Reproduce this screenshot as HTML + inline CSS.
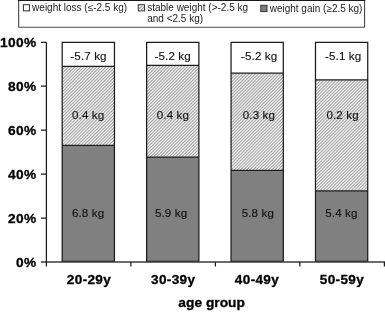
<!DOCTYPE html><html><head><meta charset="utf-8"><title>chart</title><style>html,body{margin:0;padding:0;background:#fff}svg{display:block}text{font-family:"Liberation Sans",sans-serif;fill:#111}.b{font-weight:bold;font-size:13px;fill:#000;letter-spacing:.32px;stroke:#000;stroke-width:.3px}.d{font-size:11.6px;letter-spacing:.12px;stroke:#111;stroke-width:.14px}.l{font-size:10px;fill:#1a1a1a}</style></head><body>
<svg width="385" height="312" viewBox="0 0 385 312">
<rect width="385" height="312" fill="#fff"/>
<path d="M18.65 0V27.25H364.55V0" fill="none" stroke="#4a4a4a" stroke-width="1.15"/><path d="M18 0.4H365.2" stroke="#000" stroke-width="1" fill="none"/>
<rect x="23.4" y="4.7" width="6.1" height="6.15" fill="#fff" stroke="#3c3c3c" stroke-width="1.1"/>
<rect x="138.3" y="4.7" width="6.2" height="6.15" fill="#fff" stroke="#3c3c3c" stroke-width="1.1"/>
<rect x="260.8" y="5.35" width="6.2" height="6.15" fill="#808080" stroke="#3c3c3c" stroke-width="1.1"/>
<text class="l" x="32.1" y="11">weight loss (≤-2.5 kg)</text>
<text class="l" x="147.2" y="11">stable weight (&gt;-2.5 kg</text>
<text class="l" x="147.2" y="22.3">and &lt;2.5 kg)</text>
<text class="l" x="269.7" y="11.6">weight gain (≥2.5 kg)</text>
<clipPath id="hc"><rect x="62.20" y="66.40" width="52.25" height="79.00"/><rect x="146.63" y="65.40" width="52.25" height="91.70"/><rect x="231.06" y="73.10" width="52.25" height="97.30"/><rect x="315.49" y="79.80" width="52.25" height="111.10"/><rect x="138.85" y="5.25" width="5.10" height="5.05"/></clipPath><path clip-path="url(#hc)" d="M-124.23 190.90L61.42 5.25M-121.11 190.90L64.54 5.25M-117.98 190.90L67.67 5.25M-114.86 190.90L70.79 5.25M-111.73 190.90L73.92 5.25M-108.61 190.90L77.04 5.25M-105.48 190.90L80.17 5.25M-102.36 190.90L83.29 5.25M-99.23 190.90L86.42 5.25M-96.11 190.90L89.54 5.25M-92.98 190.90L92.67 5.25M-89.86 190.90L95.79 5.25M-86.73 190.90L98.92 5.25M-83.61 190.90L102.04 5.25M-80.48 190.90L105.17 5.25M-77.36 190.90L108.29 5.25M-74.23 190.90L111.42 5.25M-71.11 190.90L114.54 5.25M-67.98 190.90L117.67 5.25M-64.86 190.90L120.79 5.25M-61.74 190.90L123.91 5.25M-58.61 190.90L127.04 5.25M-55.49 190.90L130.16 5.25M-52.36 190.90L133.29 5.25M-49.24 190.90L136.41 5.25M-46.11 190.90L139.54 5.25M-42.99 190.90L142.66 5.25M-39.86 190.90L145.79 5.25M-36.74 190.90L148.91 5.25M-33.61 190.90L152.04 5.25M-30.49 190.90L155.16 5.25M-27.36 190.90L158.29 5.25M-24.24 190.90L161.41 5.25M-21.11 190.90L164.54 5.25M-17.99 190.90L167.66 5.25M-14.86 190.90L170.79 5.25M-11.74 190.90L173.91 5.25M-8.61 190.90L177.04 5.25M-5.49 190.90L180.16 5.25M-2.36 190.90L183.29 5.25M0.76 190.90L186.41 5.25M3.89 190.90L189.54 5.25M7.01 190.90L192.66 5.25M10.14 190.90L195.79 5.25M13.26 190.90L198.91 5.25M16.39 190.90L202.04 5.25M19.51 190.90L205.16 5.25M22.64 190.90L208.29 5.25M25.76 190.90L211.41 5.25M28.89 190.90L214.54 5.25M32.01 190.90L217.66 5.25M35.14 190.90L220.79 5.25M38.26 190.90L223.91 5.25M41.39 190.90L227.04 5.25M44.51 190.90L230.16 5.25M47.64 190.90L233.29 5.25M50.76 190.90L236.41 5.25M53.89 190.90L239.54 5.25M57.01 190.90L242.66 5.25M60.14 190.90L245.79 5.25M63.26 190.90L248.91 5.25M66.39 190.90L252.04 5.25M69.52 190.90L255.17 5.25M72.64 190.90L258.29 5.25M75.77 190.90L261.42 5.25M78.89 190.90L264.54 5.25M82.02 190.90L267.67 5.25M85.14 190.90L270.79 5.25M88.27 190.90L273.92 5.25M91.39 190.90L277.04 5.25M94.52 190.90L280.17 5.25M97.64 190.90L283.29 5.25M100.77 190.90L286.42 5.25M103.89 190.90L289.54 5.25M107.02 190.90L292.67 5.25M110.14 190.90L295.79 5.25M113.27 190.90L298.92 5.25M116.39 190.90L302.04 5.25M119.52 190.90L305.17 5.25M122.64 190.90L308.29 5.25M125.77 190.90L311.42 5.25M128.89 190.90L314.54 5.25M132.02 190.90L317.67 5.25M135.14 190.90L320.79 5.25M138.27 190.90L323.92 5.25M141.39 190.90L327.04 5.25M144.52 190.90L330.17 5.25M147.64 190.90L333.29 5.25M150.77 190.90L336.42 5.25M153.89 190.90L339.54 5.25M157.02 190.90L342.67 5.25M160.14 190.90L345.79 5.25M163.27 190.90L348.92 5.25M166.39 190.90L352.04 5.25M169.52 190.90L355.17 5.25M172.64 190.90L358.29 5.25M175.77 190.90L361.42 5.25M178.89 190.90L364.54 5.25M182.02 190.90L367.67 5.25M185.14 190.90L370.79 5.25M188.27 190.90L373.92 5.25M191.39 190.90L377.04 5.25M194.52 190.90L380.17 5.25M197.64 190.90L383.29 5.25M200.77 190.90L386.42 5.25M203.89 190.90L389.54 5.25M207.02 190.90L392.67 5.25M210.14 190.90L395.79 5.25M213.27 190.90L398.92 5.25M216.39 190.90L402.04 5.25M219.52 190.90L405.17 5.25M222.64 190.90L408.29 5.25M225.77 190.90L411.42 5.25M228.89 190.90L414.54 5.25M232.02 190.90L417.67 5.25M235.14 190.90L420.79 5.25M238.27 190.90L423.92 5.25M241.39 190.90L427.04 5.25M244.52 190.90L430.17 5.25M247.64 190.90L433.29 5.25M250.77 190.90L436.42 5.25M253.89 190.90L439.54 5.25M257.01 190.90L442.67 5.25M260.14 190.90L445.79 5.25M263.26 190.90L448.92 5.25M266.39 190.90L452.04 5.25M269.51 190.90L455.17 5.25M272.64 190.90L458.29 5.25M275.76 190.90L461.42 5.25M278.89 190.90L464.54 5.25M282.01 190.90L467.67 5.25M285.14 190.90L470.79 5.25M288.26 190.90L473.92 5.25M291.39 190.90L477.04 5.25M294.51 190.90L480.17 5.25M297.64 190.90L483.29 5.25M300.76 190.90L486.42 5.25M303.89 190.90L489.54 5.25M307.01 190.90L492.67 5.25M310.14 190.90L495.79 5.25M313.26 190.90L498.92 5.25M316.39 190.90L502.04 5.25M319.51 190.90L505.17 5.25M322.64 190.90L508.29 5.25M325.76 190.90L511.41 5.25M328.89 190.90L514.54 5.25M332.01 190.90L517.66 5.25M335.14 190.90L520.79 5.25M338.26 190.90L523.91 5.25M341.39 190.90L527.04 5.25M344.51 190.90L530.16 5.25M347.64 190.90L533.29 5.25M350.76 190.90L536.41 5.25M353.89 190.90L539.54 5.25M357.01 190.90L542.66 5.25M360.14 190.90L545.79 5.25M363.26 190.90L548.91 5.25M366.39 190.90L552.04 5.25" stroke="#a2a2a2" stroke-width="1.15" fill="none"/>
<rect x="62.20" y="42.3" width="52.25" height="24.10" fill="#fff"/>
<rect x="62.20" y="145.4" width="52.25" height="115.90" fill="#808080"/>
<path d="M62.20 261.3V42.3H114.45V261.3ZM62.20 66.4H114.45M62.20 145.4H114.45" fill="none" stroke="#1c1c1c" stroke-width="1.25"/>
<text class="d" x="88.5" y="60.4" text-anchor="middle">-5.7 kg</text>
<text class="d" x="88.2" y="119.4" text-anchor="middle">0.4 kg</text>
<text class="d" x="88.1" y="216.7" text-anchor="middle">6.8 kg</text>
<text class="b" transform="translate(89.0 283.5) scale(1.045 1)" text-anchor="middle">20-29y</text>
<rect x="146.63" y="42.3" width="52.25" height="23.10" fill="#fff"/>
<rect x="146.63" y="157.1" width="52.25" height="104.20" fill="#808080"/>
<path d="M146.63 261.3V42.3H198.88V261.3ZM146.63 65.4H198.88M146.63 157.1H198.88" fill="none" stroke="#1c1c1c" stroke-width="1.25"/>
<text class="d" x="172.7" y="60.4" text-anchor="middle">-5.2 kg</text>
<text class="d" x="172.9" y="119.4" text-anchor="middle">0.4 kg</text>
<text class="d" x="171.1" y="216.7" text-anchor="middle">5.9 kg</text>
<text class="b" transform="translate(173.2 283.5) scale(1.045 1)" text-anchor="middle">30-39y</text>
<rect x="231.06" y="42.3" width="52.25" height="30.80" fill="#fff"/>
<rect x="231.06" y="170.4" width="52.25" height="90.90" fill="#808080"/>
<path d="M231.06 261.3V42.3H283.31V261.3ZM231.06 73.1H283.31M231.06 170.4H283.31" fill="none" stroke="#1c1c1c" stroke-width="1.25"/>
<text class="d" x="259.2" y="60.4" text-anchor="middle">-5.2 kg</text>
<text class="d" x="258.9" y="119.4" text-anchor="middle">0.3 kg</text>
<text class="d" x="257.8" y="216.7" text-anchor="middle">5.8 kg</text>
<text class="b" transform="translate(257.0 283.5) scale(1.045 1)" text-anchor="middle">40-49y</text>
<rect x="315.49" y="42.3" width="52.25" height="37.50" fill="#fff"/>
<rect x="315.49" y="190.9" width="52.25" height="70.40" fill="#808080"/>
<path d="M315.49 261.3V42.3H367.74V261.3ZM315.49 79.8H367.74M315.49 190.9H367.74" fill="none" stroke="#1c1c1c" stroke-width="1.25"/>
<text class="d" x="343.2" y="60.4" text-anchor="middle">-5.1 kg</text>
<text class="d" x="342.6" y="119.4" text-anchor="middle">0.2 kg</text>
<text class="d" x="341.4" y="216.7" text-anchor="middle">5.4 kg</text>
<text class="b" transform="translate(341.9 283.5) scale(1.045 1)" text-anchor="middle">50-59y</text>
<path d="M40.9 262.0H385" fill="none" stroke="#3c3c3c" stroke-width="1.3"/>
<path d="M46.4 42.3V266.6M40.9 42.30H46.4M40.9 86.24H46.4M40.9 130.18H46.4M40.9 174.12H46.4M40.9 218.06H46.4M130.90 262.0V266.6M215.40 262.0V266.6M299.90 262.0V266.6M384.40 262.0V266.6" fill="none" stroke="#1c1c1c" stroke-width="1.25"/>
<text class="b" transform="translate(36.5 47.1) scale(1.055 1)" text-anchor="end">100%</text>
<text class="b" transform="translate(36.5 91.0) scale(1.055 1)" text-anchor="end">80%</text>
<text class="b" transform="translate(36.5 135.0) scale(1.055 1)" text-anchor="end">60%</text>
<text class="b" transform="translate(36.5 178.9) scale(1.055 1)" text-anchor="end">40%</text>
<text class="b" transform="translate(36.5 222.9) scale(1.055 1)" text-anchor="end">20%</text>
<text class="b" transform="translate(36.5 266.8) scale(1.055 1)" text-anchor="end">0%</text>
<text class="b" transform="translate(211.6 307.3) scale(1.06 1)" text-anchor="middle" style="letter-spacing:0px">age group</text>
</svg></body></html>
